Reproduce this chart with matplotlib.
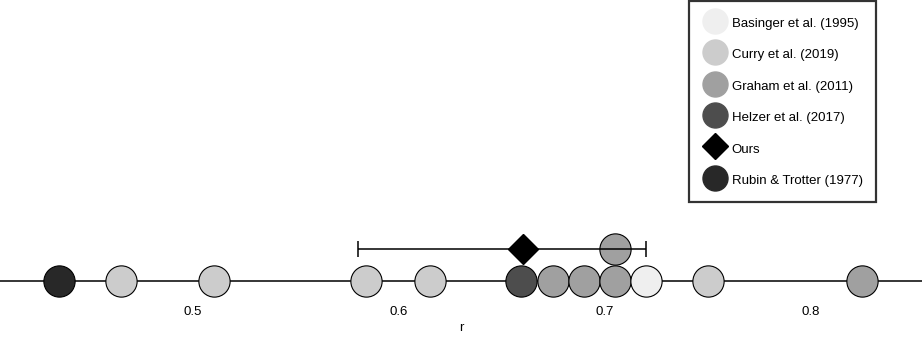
import numpy as np
import matplotlib.pyplot as plt
from matplotlib.lines import Line2D

plt.rcParams['font.family'] = ['Liberation Sans', 'DejaVu Sans']

# data: correlation r reported by each study
studies = ["Basinger et al. (1995)", "Curry et al. (2019)", "Graham et al. (2011)",
           "Helzer et al. (2017)", "Rubin & Trotter (1977)"]
r_values = {
    "Basinger et al. (1995)": [0.720],
    "Curry et al. (2019)": [0.465, 0.510, 0.584, 0.615, 0.750],
    "Graham et al. (2011)": [0.675, 0.690, 0.705, 0.705, 0.825],
    "Helzer et al. (2017)": [0.659],
    "Rubin & Trotter (1977)": [0.435],
}
colors = {
    "Basinger et al. (1995)": "#efefef",
    "Curry et al. (2019)": "#cccccc",
    "Graham et al. (2011)": "#a0a0a0",
    "Helzer et al. (2017)": "#4d4d4d",
    "Rubin & Trotter (1977)": "#282828",
}
ours_r = 0.66
ours_lo = 0.58
ours_hi = 0.72

# simple swarm: stack points that would overlap
diam = 0.0145
pts = sorted([(v, s) for s in studies for v in r_values[s]])
placed = []
for v, s in pts:
    lev = 0
    while any(l == lev and abs(pv - v) < diam for pv, _, l in placed):
        lev += 1
    placed.append((v, s, lev))

fig = plt.figure(figsize=(9.22, 3.37), dpi=100)
ax = fig.add_axes([0, 37 / 337, 1, 300 / 337])

ax.axhline(0, color='black', lw=1.1, zorder=1)
for v, s, lev in placed:
    ax.plot(v, lev, 'o', ms=22.5, mfc=colors[s], mec='black', mew=0.8, zorder=2)

ax.errorbar(ours_r, 1, xerr=[[ours_r - ours_lo], [ours_hi - ours_r]],
            fmt='none', ecolor='black', elinewidth=1.1, capsize=5.5, capthick=1.1, zorder=3)
ax.plot(ours_r, 1, 'D', ms=15.5, color='black', zorder=4)

ax.set_xlim(0.4063, 0.8539)
ax.set_ylim(-19 / 32, -19 / 32 + 300 / 32)
ax.set_xticks([0.5, 0.6, 0.7, 0.8])
ax.set_xticklabels(['0.5', '0.6', '0.7', '0.8'], fontsize=9.5)
ax.tick_params(axis='x', length=0, pad=4)
ax.set_yticks([])
for sp in ax.spines.values():
    sp.set_visible(False)
ax.set_xlabel('r', fontsize=9.5, labelpad=3)

# legend
handles = []
labels = []
for s in studies[:4]:
    handles.append(Line2D([], [], ls='none', marker='o', ms=18, mfc=colors[s], mec=colors[s]))
    labels.append(s)
handles.append(Line2D([], [], ls='none', marker='D', ms=13, color='black'))
labels.append("Ours")
s = studies[4]
handles.append(Line2D([], [], ls='none', marker='o', ms=18, mfc=colors[s], mec=colors[s]))
labels.append(s)

leg = fig.legend(handles, labels, loc='upper right', bbox_to_anchor=(876 / 922, 1 - 1 / 337),
                 borderaxespad=0, fontsize=9.5, frameon=True, fancybox=False, edgecolor='black',
                 labelspacing=1.10, handlelength=1.94, handleheight=1.6, handletextpad=0.32,
                 borderpad=1.0)
leg.get_frame().set_linewidth(1.6)

fig.savefig('out.png', dpi=100)
